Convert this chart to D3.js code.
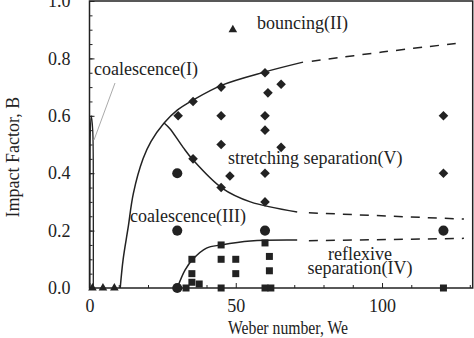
<!DOCTYPE html>
<html><head><meta charset="utf-8">
<script src="https://cdn.jsdelivr.net/npm/d3@7"></script>
<style>
html,body{margin:0;padding:0;background:#fff;}
svg{display:block;}
text{font-family:"Liberation Serif","Times New Roman",serif;fill:#222;}
</style></head>
<body>
<svg id="c" width="474" height="338"></svg>
<script>
// ---- data ----
const stretching = [[60,0.75],[65.5,0.71],[61,0.68],[45,0.7],[35.4,0.65],[30.3,0.6],[45,0.6],[60,0.6],[60,0.55],[45,0.5],[65.5,0.49],[35.4,0.45],[48,0.39],[60,0.4],[45,0.35],[60,0.3],[121,0.6],[121,0.4]];
const bouncing = [[49,0.9],[1,0],[4.6,0],[8.5,0]];
const coalescenceIII = [[30,0.4],[30,0.2],[60,0.2],[121,0.2],[30,0]];
const reflexive = [[35,0.1],[35,0.05],[35,0.02],[37.5,0.014],[33,0],[45,0.15],[45,0.1],[50,0.1],[50,0.05],[45,0],[60,0.157],[61.5,0.11],[61.5,0.06],[60,0],[62,0],[121,0]];
const boundaryUpper = [[10.5,0],[11.5,0.1],[13.2,0.21],[15,0.33],[18.3,0.45],[21,0.51],[25.5,0.575],[30,0.62],[35.4,0.655],[45.3,0.707],[60,0.753],[73,0.787]];
const boundaryUpperExt = [[76,0.79],[100,0.822],[126,0.853]];
const boundaryMiddle = [[25.5,0.575],[27.5,0.555],[32,0.49],[35.4,0.446],[45.3,0.348],[55,0.3],[71,0.265]];
const boundaryMiddleExt = [[75,0.262],[128,0.24]];
const boundaryLower = [[30,0],[32.7,0.063],[35.4,0.101],[40,0.139],[45,0.15],[55,0.164],[71,0.167]];
const boundaryLowerExt = [[75,0.165],[128,0.173]];
const spikeI = [[0.1,0],[0.15,0.3],[0.3,0.55],[0.6,0.6],[1.1,0.55],[1.3,0.3],[1.3,0]];
const xMajorTicks = [0,50,100];
const xMinorTicks = [10,20,30,40,60,70,80,90,110,120,130];
const yMajorTicks = [0,0.2,0.4,0.6,0.8,1.0];
const yMinorTicks = d3.range(0,1.0001,0.05);
const regionLabels = [
  {t:"bouncing(II)", x:49, y:0.9},
];

// ---- scales ----
const svg = d3.select("#c");
const x = d3.scaleLinear().domain([0,131]).range([89.5,472.7]);
const y = d3.scaleLinear().domain([0,1]).range([288,1]);

// frame
svg.append("rect").attr("x",x(0)).attr("y",y(1)).attr("width",x(131)-x(0)).attr("height",y(0)-y(1))
  .attr("fill","none").attr("stroke","#222").attr("stroke-width",1.5);

// axes
const gy = svg.append("g").attr("transform",`translate(${x(0)},0)`)
  .call(d3.axisLeft(y).tickValues(yMajorTicks).tickSize(-5).tickPadding(19).tickFormat(d3.format(".1f")));
const gyMinor = svg.append("g").attr("transform",`translate(${x(0)},0)`)
  .call(d3.axisLeft(y).tickValues(yMinorTicks).tickSize(-3).tickFormat(""));
const gx = svg.append("g").attr("transform",`translate(0,${y(0)})`)
  .call(d3.axisBottom(x).tickValues(xMajorTicks).tickSize(-5).tickPadding(11).tickFormat(d3.format("d")));
const gxMinor = svg.append("g").attr("transform",`translate(0,${y(0)})`)
  .call(d3.axisBottom(x).tickValues(xMinorTicks).tickSize(-3).tickFormat(""));
[gy,gyMinor,gx,gxMinor].forEach(g=>{
  g.select(".domain").remove();
  g.selectAll("line").attr("stroke","#222").attr("stroke-width",1);
  g.selectAll("text").attr("font-size",18).attr("font-family","Liberation Serif").attr("fill","#222");
});

// axis titles
svg.append("text").attr("transform","translate(19,157) rotate(-90)").attr("text-anchor","middle")
  .attr("font-size",18).text("Impact Factor, B");
svg.append("text").attr("x",228).attr("y",334).attr("font-size",18)
  .attr("textLength",120).attr("lengthAdjust","spacingAndGlyphs").text("Weber number, We");

// lines
const line = d3.line().x(d=>x(d[0])).y(d=>y(d[1])).curve(d3.curveCatmullRom.alpha(0.5));
const straight = d3.line().x(d=>x(d[0])).y(d=>y(d[1])).curve(d3.curveCatmullRom.alpha(0.5));
[boundaryUpper,boundaryMiddle,boundaryLower].forEach(dd=>{
  svg.append("path").attr("d",line(dd)).attr("fill","none").attr("stroke","#222").attr("stroke-width",1.5);
});
[boundaryUpperExt,boundaryMiddleExt,boundaryLowerExt].forEach(dd=>{
  svg.append("path").attr("d",straight(dd)).attr("fill","none").attr("stroke","#222").attr("stroke-width",1.5)
    .attr("stroke-dasharray","9,8");
});
svg.append("path").attr("d",line(spikeI)).attr("fill","none").attr("stroke","#222").attr("stroke-width",1.3);

// leader line
svg.append("line").attr("x1",115).attr("y1",83).attr("x2",94).attr("y2",140)
  .attr("stroke","#aaa").attr("stroke-width",1);

// markers
const mk = (data, sym, size, rot) => {
  svg.append("g").selectAll("path").data(data).join("path")
    .attr("d", d3.symbol().type(sym).size(size))
    .attr("transform", d=>`translate(${x(d[0])},${y(d[1])})${rot?" rotate(45)":""}`)
    .attr("fill","#222");
};
mk(stretching, d3.symbolSquare, 46, true);
mk(reflexive, d3.symbolSquare, 49, false);
mk(coalescenceIII, d3.symbolCircle, 80, false);
mk(bouncing, d3.symbolTriangle, 32, false);

// region labels
const lab = (t,xx,yy,anchor)=>svg.append("text").attr("x",xx).attr("y",yy).attr("font-size",18)
  .attr("text-anchor",anchor||"start").text(t);
lab("bouncing(II)",257,29);
lab("coalescence(I)",94,75);
lab("stretching separation(V)",228,164);
lab("coalescence(III)",130,222);
lab("reflexive",360,260,"middle");
lab("separation(IV)",360,274,"middle");
</script>
</body></html>
